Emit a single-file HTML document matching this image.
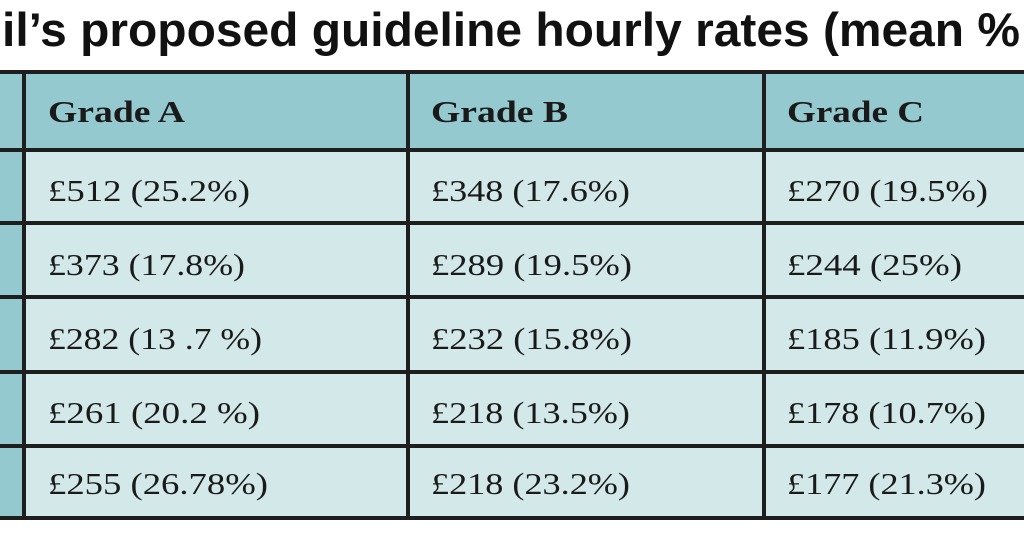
<!DOCTYPE html>
<html><head><meta charset="utf-8"><style>html,body{margin:0;padding:0;background:#fff;overflow:hidden}</style></head>
<body>
<svg width="1024" height="536" xmlns="http://www.w3.org/2000/svg">
<rect width="1024" height="536" fill="#fff"/>
<text x="2" y="46" font-family="Liberation Sans, sans-serif" font-weight="bold" font-size="47" fill="#111" textLength="1018" lengthAdjust="spacingAndGlyphs">il’s proposed guideline hourly rates (mean %</text>
<rect x="0" y="72" width="1024" height="78" fill="#94c9cf"/>
<rect x="24" y="150" width="1000" height="369" fill="#d3e8e9"/>
<rect x="0" y="150" width="24" height="369" fill="#94c9cf"/>
<g fill="#1e1e1e">
<rect x="0" y="70" width="1024" height="4"/>
<rect x="0" y="148" width="1024" height="4"/>
<rect x="0" y="221" width="1024" height="4"/>
<rect x="0" y="295" width="1024" height="4"/>
<rect x="0" y="370" width="1024" height="4"/>
<rect x="0" y="444" width="1024" height="4"/>
<rect x="0" y="516" width="1024" height="4"/>
<rect x="22" y="70" width="4" height="450"/>
<rect x="406" y="70" width="4" height="450"/>
<rect x="762" y="70" width="4" height="450"/>
</g>
<g font-family="Liberation Serif, serif" font-size="31" fill="#1a1a1a">
<g font-weight="bold"><text x="48" y="122" textLength="137" lengthAdjust="spacingAndGlyphs">Grade A</text><text x="431" y="122" textLength="137" lengthAdjust="spacingAndGlyphs">Grade B</text><text x="787" y="122" textLength="137" lengthAdjust="spacingAndGlyphs">Grade C</text></g>
<text x="48" y="201" textLength="202" lengthAdjust="spacingAndGlyphs">£512 (25.2%)</text><text x="431" y="201" textLength="199" lengthAdjust="spacingAndGlyphs">£348 (17.6%)</text><text x="787" y="201" textLength="201" lengthAdjust="spacingAndGlyphs">£270 (19.5%)</text>
<text x="48" y="275" textLength="197" lengthAdjust="spacingAndGlyphs">£373 (17.8%)</text><text x="431" y="275" textLength="201" lengthAdjust="spacingAndGlyphs">£289 (19.5%)</text><text x="787" y="275" textLength="175" lengthAdjust="spacingAndGlyphs">£244 (25%)</text>
<text x="48" y="349" textLength="214" lengthAdjust="spacingAndGlyphs">£282 (13 .7 %)</text><text x="431" y="349" textLength="201" lengthAdjust="spacingAndGlyphs">£232 (15.8%)</text><text x="787" y="349" textLength="199" lengthAdjust="spacingAndGlyphs">£185 (11.9%)</text>
<text x="48" y="423" textLength="212" lengthAdjust="spacingAndGlyphs">£261 (20.2 %)</text><text x="431" y="423" textLength="199" lengthAdjust="spacingAndGlyphs">£218 (13.5%)</text><text x="787" y="423" textLength="199" lengthAdjust="spacingAndGlyphs">£178 (10.7%)</text>
<text x="48" y="494" textLength="220" lengthAdjust="spacingAndGlyphs">£255 (26.78%)</text><text x="431" y="494" textLength="199" lengthAdjust="spacingAndGlyphs">£218 (23.2%)</text><text x="787" y="494" textLength="199" lengthAdjust="spacingAndGlyphs">£177 (21.3%)</text>
</g>
</svg>
</body></html>
